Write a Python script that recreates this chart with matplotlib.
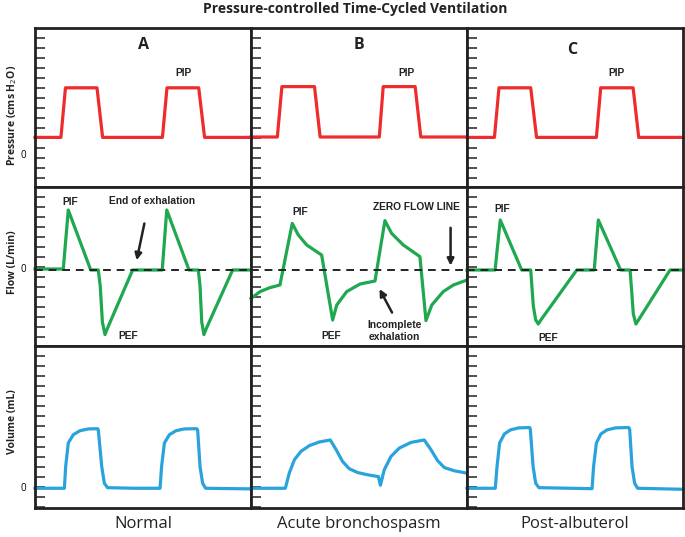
import numpy as np
import matplotlib.pyplot as plt

# time axis runs 0-10 in every panel
columns = ['Normal', 'Acute bronchospasm', 'Post-albuterol']
panel_tags = ['A', 'B', 'C']
row_labels = ['Pressure (cms H$_2$O)', 'Flow (L/min)', 'Volume (mL)']

# pressure (cm H2O)
pres_t_a = [0, 1.2, 1.41, 2.87, 3.13, 5.9, 6.11, 7.58, 7.85, 10]
pres_a = [4.4, 4.4, 16.8, 16.8, 4.4, 4.4, 16.8, 16.8, 4.4, 4.4]
pres_t_b = [0, 1.22, 1.43, 2.94, 3.2, 5.94, 6.12, 7.6, 7.86, 10]
pres_b = [4.5, 4.5, 17.1, 17.1, 4.5, 4.5, 17.1, 17.1, 4.5, 4.5]
pres_t_c = [0, 1.27, 1.48, 2.95, 3.22, 5.99, 6.19, 7.69, 7.95, 10]
pres_c = [4.4, 4.4, 16.8, 16.8, 4.4, 4.4, 16.8, 16.8, 4.4, 4.4]

# flow (L/min)
flow_t_a = [0, 1.31, 1.54, 2.58, 2.93, 3.02, 3.12, 3.24, 3.36, 4.52, 5.89, 6.10,
            7.13, 7.56, 7.64, 7.72, 7.82, 7.94, 9.15, 10]
flow_a = [0.5, 0.5, 30, 0, 0, -8, -26, -32.3, -29, 0, 0, 30,
          0, 0, -8, -26, -32.3, -29, 0, 0]
flow_t_b = [0, 0.42, 0.88, 1.34, 1.91, 2.19, 2.58, 3.27, 3.78, 3.97, 4.43, 5.05,
            5.74, 6.20, 6.51, 7.05, 7.82, 8.10, 8.37, 8.90, 9.37, 10]
flow_b = [-14.2, -10.8, -8.8, -7.5, 23.3, 17.5, 12.5, 7.5, -25, -17.5, -10.8, -7,
          -5.5, 24.7, 18.3, 12.5, 6.7, -25.3, -17.5, -10.8, -7.5, -5]
flow_t_c = [0, 1.30, 1.54, 2.53, 2.95, 3.07, 3.18, 3.30, 3.42, 5.08, 5.89, 6.08,
            7.11, 7.55, 7.62, 7.70, 7.82, 7.94, 9.40, 10]
flow_c = [0, 0, 25, 0, 0, -18, -25, -27, -25, 0, 0, 25,
          0, 0, -10, -22, -27, -25, 0, 0]

# volume (mL)
vol_t_a = [0, 1.36, 1.42, 1.54, 1.77, 2.08, 2.47, 2.90, 2.93, 3.09, 3.21, 3.36, 4.63,
           5.79, 5.86, 5.99, 6.22, 6.53, 6.91, 7.48, 7.53, 7.64, 7.76, 7.90, 10]
vol_a = [0, 0, 108, 225, 266, 286, 295, 296, 290, 108, 25, 3, 0,
         0, 108, 225, 266, 286, 295, 296, 290, 108, 25, 0, -3]
vol_t_b = [0, 1.59, 1.77, 2.01, 2.31, 2.70, 3.16, 3.67, 3.94, 4.24, 4.55, 4.94, 5.40,
           5.90, 5.99, 6.17, 6.48, 6.87, 7.41, 8.02, 8.33, 8.64, 8.95, 9.41, 10]
vol_b = [0, 0, 75, 142, 183, 212, 230, 240, 192, 133, 97, 78, 67,
         58, 15, 92, 158, 200, 228, 240, 192, 137, 103, 87, 75]
vol_t_c = [0, 1.31, 1.39, 1.51, 1.73, 2.01, 2.39, 2.90, 2.93, 3.06, 3.18, 3.33, 5.79,
           5.86, 5.99, 6.20, 6.48, 6.87, 7.48, 7.53, 7.64, 7.76, 7.90, 10]
vol_c = [0, 0, 108, 225, 270, 290, 300, 302, 295, 108, 25, 3, -2,
         108, 225, 270, 290, 300, 302, 295, 108, 25, 0, -5]

pressure = [(pres_t_a, pres_a), (pres_t_b, pres_b), (pres_t_c, pres_c)]
flow = [(flow_t_a, flow_a), (flow_t_b, flow_b), (flow_t_c, flow_c)]
volume = [(vol_t_a, vol_a), (vol_t_b, vol_b), (vol_t_c, vol_c)]

rows = [pressure, flow, volume]
row_colors = ['#ee2c2c', '#1fa84f', '#2aa3dc']
row_ylims = [(-8, 31.75), (-38, 41.5), (-98, 707)]
row_tick_step = [2.5, 5, 50]

W, H = 685, 537
fig = plt.figure(figsize=(W / 100, H / 100), dpi=100)

left, col_w = 35, 216
tops = [28, 187, 346]
heights = [159, 159, 162]

axes = []
for r in range(3):
    ax_row = []
    for c in range(3):
        ax = fig.add_axes([(left + c * col_w) / W, 1 - (tops[r] + heights[r]) / H,
                           col_w / W, heights[r] / H])
        t, y = rows[r][c]
        ax.plot(t, y, color=row_colors[r], lw=2.3, solid_joinstyle='round',
                clip_on=False, zorder=3)
        lo, hi = row_ylims[r]
        ax.set_xlim(0, 10)
        ax.set_ylim(lo, hi)
        step = row_tick_step[r]
        ax.set_yticks(np.arange(hi - step, lo, -step))
        ax.set_yticklabels([])
        ax.set_xticks([])
        ax.tick_params(axis='y', direction='in', length=7, width=1.2, color='#333333')
        for s in ax.spines.values():
            s.set_linewidth(2.0)
            s.set_color('#222222')
            s.set_zorder(5)
        if r == 1:
            ax.axhline(0, color='#222222', lw=1.4, ls=(0, (4, 3)), zorder=4)
        ax_row.append(ax)
    axes.append(ax_row)

# zero labels and row labels on the left column
label_centers = [115, 262, 422]
for r in range(3):
    axes[r][0].text(-0.55, 0, '0', fontsize=7, ha='center', va='center',
                    fontfamily='Open Sans')
    fig.text(12 / W, 1 - label_centers[r] / H, row_labels[r], rotation=90,
             ha='center', va='center', fontsize=7.5, fontweight='bold',
             fontfamily='Open Sans', color='#222222')

fig.text(0.518, 1 - 9 / H, 'Pressure-controlled Time-Cycled Ventilation', ha='center',
         va='center', fontsize=10, fontweight='bold', fontfamily='Open Sans', color='#222222')

ann = dict(fontsize=7.4, fontweight='bold', fontfamily='Liberation Sans', color='#222222',
           ha='center', va='center')

# pressure panel labels
tag_y = [27.5, 27.5, 26.3]
pip_x = [6.87, 7.19, 6.9]
for c in range(3):
    ax = axes[0][c]
    ax.text(5.0 if c < 2 else 4.87, tag_y[c], panel_tags[c], fontsize=11.5, fontweight='bold',
            fontfamily='Open Sans', ha='center', va='center', color='#222222')
    ax.text(pip_x[c], 20.6, 'PIP', **ann)

# flow annotations
ax = axes[1][0]
ax.text(1.62, 33.8, 'PIF', **ann)
ax.text(5.4, 34.3, 'End of exhalation', **ann)
ax.text(4.32, -32.8, 'PEF', **ann)
ax.annotate('', xy=(4.68, 3.5), xytext=(5.09, 24.6),
            arrowprops=dict(arrowstyle='-|>', color='#222222', lw=1.8, mutation_scale=10))

ax = axes[1][1]
ax.text(2.27, 29.2, 'PIF', **ann)
ax.text(7.67, 31.7, 'ZERO FLOW LINE', **ann)
ax.text(3.73, -32.8, 'PEF', **ann)
ax.text(6.65, -30.5, 'Incomplete\nexhalation', linespacing=1.25, **ann)
ax.annotate('', xy=(9.24, 0.8), xytext=(9.24, 22.5),
            arrowprops=dict(arrowstyle='-|>', color='#222222', lw=1.8, mutation_scale=10))
ax.annotate('', xy=(5.89, -8.3), xytext=(6.59, -22.5),
            arrowprops=dict(arrowstyle='-|>', color='#222222', lw=1.8, mutation_scale=10))

ax = axes[1][2]
ax.text(1.65, 30.3, 'PIF', **ann)
ax.text(3.77, -34.2, 'PEF', **ann)

# column labels
for c in range(3):
    fig.text((left + (c + 0.5) * col_w) / W, 1 - 524 / H, columns[c], ha='center', va='center',
             fontsize=12, fontfamily='Open Sans', color='#222222')

fig.savefig('out.png', dpi=100)
